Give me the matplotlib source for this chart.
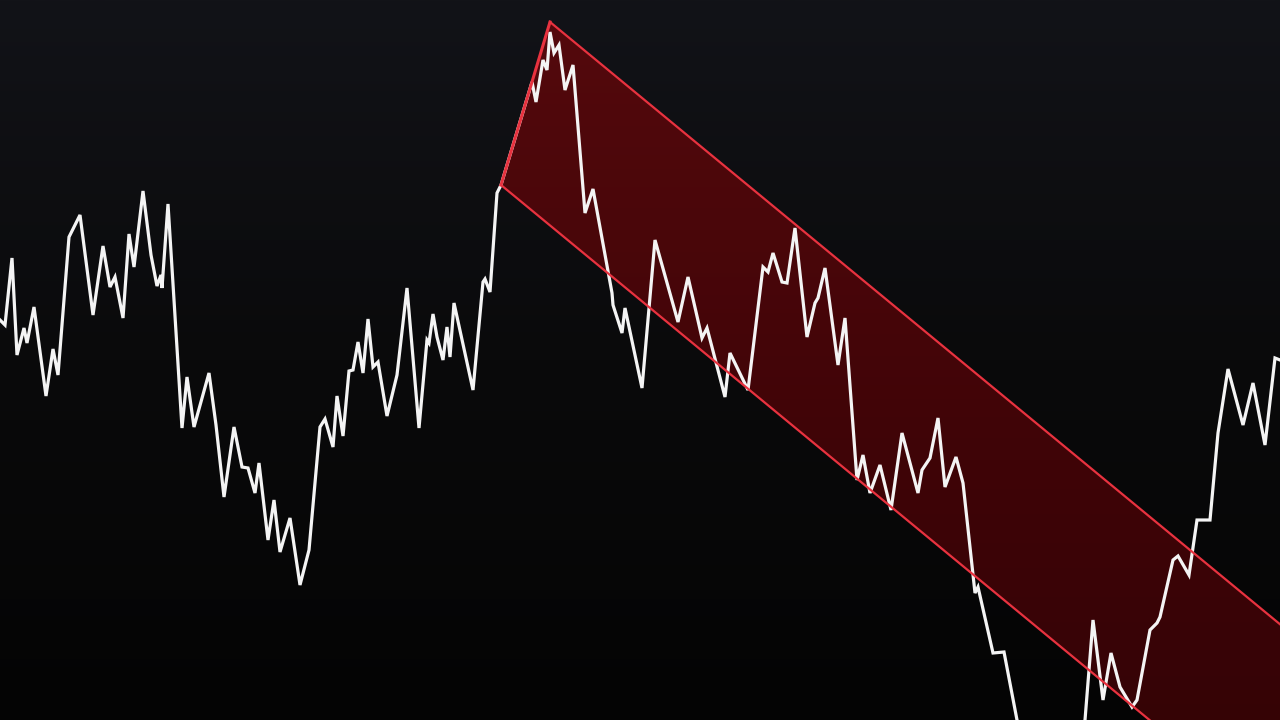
import matplotlib
matplotlib.use('Agg')
import matplotlib.pyplot as plt
import numpy as np
from matplotlib.patches import Polygon

# price path (time index, price level)
t = [0, 5, 12, 17, 24, 27, 34, 46, 53, 58, 69, 80, 93, 103, 110, 115, 123, 129, 134, 143,
     151, 157, 161, 162, 168, 182, 187, 194, 209, 216, 224, 234, 242, 248, 255, 259, 268, 274,
     280, 290, 300, 309, 320, 325, 333, 337, 343, 349, 353, 358, 363, 368, 373, 378, 387, 397,
     407, 419, 427, 429, 433, 437, 443, 447, 450, 454, 466, 473, 483, 485, 490, 497, 501,
     532, 536, 543, 547, 550, 554, 559, 565, 573, 585, 593, 612, 613, 622, 625, 642, 655,
     678, 688, 702, 707, 725, 730, 748, 763, 768, 773, 782, 787, 795, 807, 815, 818, 825,
     838, 845, 857, 863, 870, 880, 891, 902, 918, 922, 930, 938, 945, 956, 963, 975, 978,
     993, 1004, 1017, 1040, 1060, 1085, 1093, 1103, 1111, 1120, 1132, 1137, 1150, 1157, 1160,
     1173, 1178, 1189, 1197, 1210, 1218, 1228, 1243, 1253, 1265, 1275, 1280]
price = [400, 395, 462, 365, 392, 377, 413, 324, 371, 345, 483, 505, 405, 474, 433, 443, 402, 486, 453, 529,
         465, 434, 445, 432, 516, 292, 343, 293, 347, 295, 223, 293, 253, 252, 227, 257, 180, 220,
         168, 202, 135, 170, 293, 301, 273, 324, 284, 349, 350, 378, 347, 401, 353, 358, 304, 345,
         432, 292, 380, 377, 406, 383, 360, 393, 363, 417, 362, 330, 438, 441, 428, 527, 535,
         638, 618, 660, 650, 688, 667, 675, 630, 655, 507, 531, 427, 415, 387, 412, 332, 480,
         398, 443, 382, 392, 323, 367, 330, 453, 448, 467, 438, 437, 492, 383, 417, 422, 452,
         355, 402, 240, 265, 227, 255, 210, 287, 227, 250, 262, 302, 233, 263, 237, 127, 133,
         67, 68, 0, -60, -80, 0, 100, 20, 67, 33, 13, 20, 90, 97, 103,
         160, 164, 145, 200, 200, 287, 351, 295, 337, 275, 362, 360]

# descending channel: left corners and slope
chan_x0, chan_low0 = 501, 535
chan_xtop, chan_high0 = 550, 698
chan_slope = -0.825
chan_x1 = 1290

fig = plt.figure(figsize=(12.8, 7.2), dpi=100)
ax = fig.add_axes([0, 0, 1, 1])
ax.set_xlim(0, 1280)
ax.set_ylim(0, 720)
ax.axis('off')

# background vertical gradient
bg = np.linspace(0, 1, 256).reshape(-1, 1)
bg_cmap = matplotlib.colors.LinearSegmentedColormap.from_list('bg', ['#040404', '#0a0a0b', '#121318'])
ax.imshow(bg, cmap=bg_cmap, extent=[0, 1280, 0, 720], origin='lower', aspect='auto', zorder=0)

# channel polygon
low1 = chan_low0 + chan_slope * (chan_x1 - chan_x0)
high1 = chan_high0 + chan_slope * (chan_x1 - chan_xtop)
verts = [(chan_x0, chan_low0), (chan_xtop, chan_high0), (chan_x1, high1), (chan_x1, low1)]
poly = Polygon(verts, closed=True, facecolor='none', edgecolor='none')
ax.add_patch(poly)
red_cmap = matplotlib.colors.LinearSegmentedColormap.from_list('rd', ['#2e0305', '#3f0407', '#55090d'])
grad = np.linspace(0, 1, 256).reshape(-1, 1)
im = ax.imshow(grad, cmap=red_cmap, extent=[0, 1280, -200, 720], origin='lower', aspect='auto', zorder=1)
im.set_clip_path(poly)

edge_col = '#e8323f'
ax.plot([chan_x0, chan_xtop], [chan_low0, chan_high0], color=edge_col, lw=2.2, zorder=3)
ax.plot([chan_xtop, chan_x1], [chan_high0, high1], color=edge_col, lw=1.6, zorder=3)
ax.plot([chan_x0, chan_x1], [chan_low0, low1], color=edge_col, lw=1.6, zorder=3)

ax.plot(t, price, color='#f4f4f4', lw=2.3, solid_joinstyle='miter', zorder=2)

fig.savefig('out.png', dpi=100, facecolor='#0a0a0b')
